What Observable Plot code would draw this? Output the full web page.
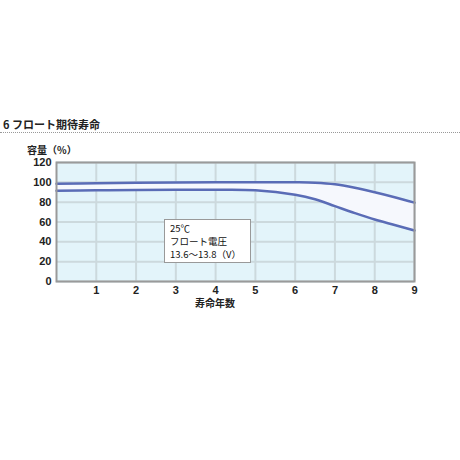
<!DOCTYPE html>
<html><head><meta charset="utf-8">
<script src="https://cdn.jsdelivr.net/npm/d3@7"></script>
<script src="https://cdn.jsdelivr.net/npm/@observablehq/plot@0.6"></script>
<style>
body{margin:0;background:#fff;font-family:"Noto Sans CJK JP","Noto Sans",sans-serif;}
#wrap{position:relative;width:460px;height:460px;overflow:hidden;}
#chart{position:absolute;left:0;top:0;}
.title{position:absolute;left:3px;top:118px;font-size:11px;line-height:13px;font-weight:bold;color:#222;white-space:nowrap;}
.rule{position:absolute;left:0;top:132px;width:460px;border-top:1px dotted #999;}
.ylab{position:absolute;left:27px;top:145px;font-size:10px;line-height:10px;font-weight:bold;color:#222;white-space:nowrap;}
.xlab{position:absolute;left:195px;top:297px;font-size:10px;line-height:12px;font-weight:bold;color:#222;white-space:nowrap;}
.note{position:absolute;left:164px;top:219px;width:87px;height:44px;background:#fff;border:1px solid #999;box-sizing:border-box;font-size:9.5px;line-height:13px;padding:2px 0 0 5px;color:#111;white-space:nowrap;}
</style></head>
<body>
<div id="wrap">
<div id="chart"></div>
<div class="title">6 フロート期待寿命</div>
<div class="rule"></div>
<div class="ylab">容量（%）</div>
<div class="xlab">寿命年数</div>
<div class="note">25℃<br>フロート電圧<br>13.6～13.8（V）</div>
</div>
<script>
const years =  [0,    1,    2,    3,    4,    5,    6,    6.5,  7,    7.5,  8,    8.5,  9];
const upper =  [98.5, 99,   99.5, 99.8, 100,  100,  100,  99.6, 98,   94.5, 90,   85,   79.5];
const lower =  [91.5, 92,   92.3, 92.5, 92.5, 92,   87.5, 83,   76,   69,   62.5, 57,   51.5];
const xTicks = [1,2,3,4,5,6,7,8,9];
const yTicks = [0,20,40,60,80,100,120];

const data = years.map((x,i)=>({x, hi: upper[i], lo: lower[i]}));
const lineColor = "#5a6cb6";
const curve = "catmull-rom";

const chart = Plot.plot({
  width: 460, height: 460,
  marginLeft: 56, marginRight: 46, marginTop: 162, marginBottom: 179,
  style: {fontFamily: "'Liberation Sans', Arial, sans-serif", fontSize: "11px", fontWeight: "bold", color: "#222", background: "transparent"},
  x: {domain: [0, 9], ticks: xTicks, tickSize: 0, tickPadding: 5, label: null},
  y: {domain: [0, 120], ticks: yTicks, tickSize: 0, tickPadding: 5, label: null},
  marks: [
    Plot.frame({fill: "#e3f4fa", stroke: null}),
    Plot.gridX(xTicks, {stroke: "#ccd9dd", strokeOpacity: 1, strokeWidth: 2}),
    Plot.gridY(yTicks, {stroke: "#ccd9dd", strokeOpacity: 1, strokeWidth: 2}),
    Plot.areaY(data, {x: "x", y1: "lo", y2: "hi", fill: "#f6f8fd", curve}),
    Plot.lineY(data, {x: "x", y: "hi", stroke: lineColor, strokeWidth: 2.5, curve}),
    Plot.lineY(data, {x: "x", y: "lo", stroke: lineColor, strokeWidth: 2.5, curve}),
    Plot.frame({stroke: "#9a9a9a", strokeWidth: 2}),
    Plot.axisX(xTicks, {tickSize: 0, tickPadding: 5, fontWeight: "bold"}),
    Plot.axisY(yTicks, {tickSize: 0, tickPadding: 5, fontWeight: "bold"})
  ]
});
document.getElementById("chart").appendChild(chart);
</script>
</body></html>
